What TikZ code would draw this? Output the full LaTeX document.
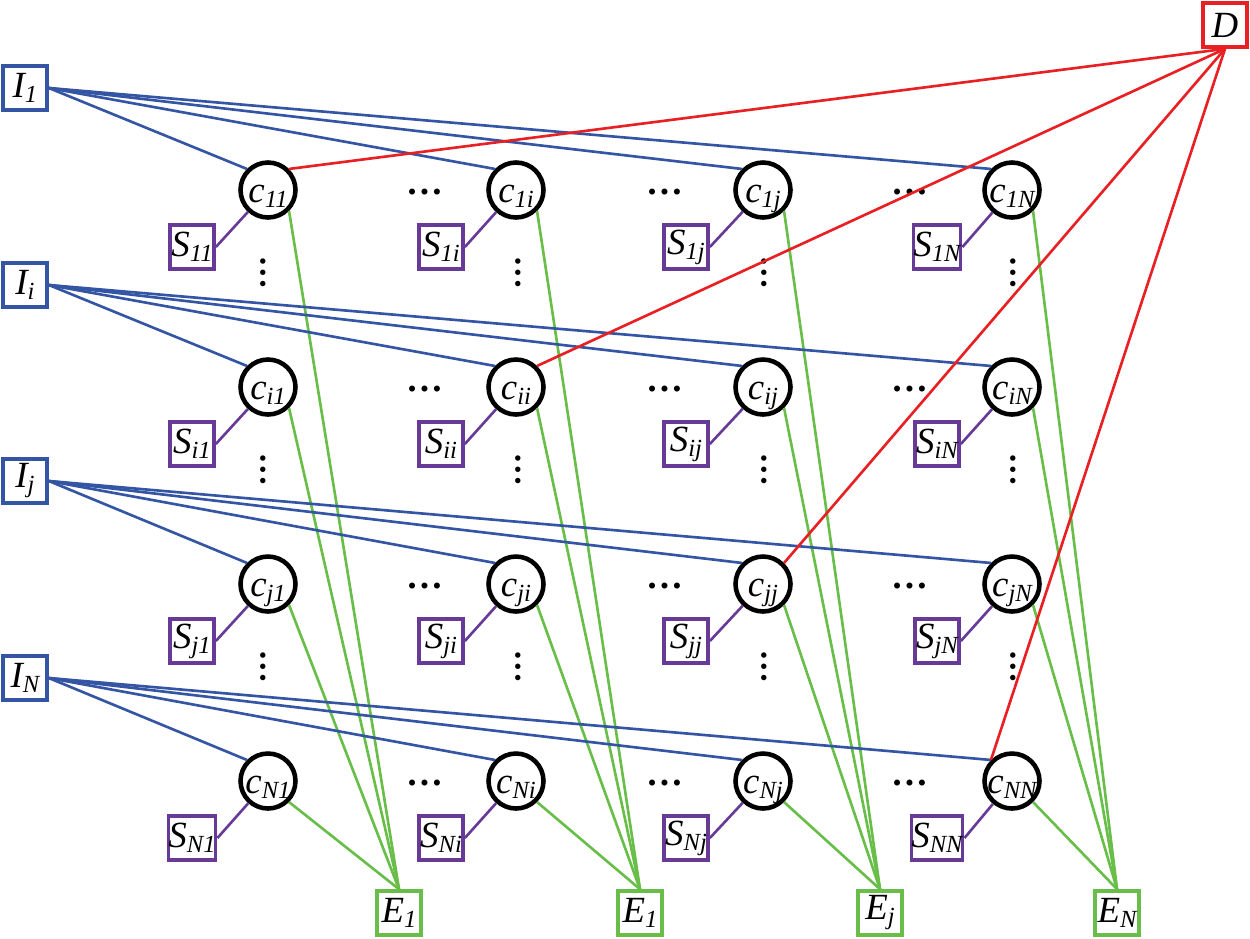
\documentclass[tikz,border=0pt]{standalone}
\usepackage{fontspec}
\setmainfont{Liberation Serif}
\definecolor{inblue}{RGB}{52,84,164}
\definecolor{spurple}{RGB}{104,58,152}
\definecolor{egreen}{RGB}{104,190,72}
\definecolor{dred}{RGB}{232,32,36}
\newcommand{\lbl}[2]{#1\raisebox{-0.1cm}{\fontsize{14}{14}\selectfont #2}}
\newcommand{\clbl}[2]{\raisebox{-0.24cm}[0pt][0pt]{\lbl{#1}{#2}}}
\begin{document}
\begin{tikzpicture}[x=0.02cm, y=-0.02cm, font=\fontsize{21}{21}\selectfont\itshape,
  cell/.style={circle, draw=black, line width=2.6pt, minimum size=1.1cm, inner sep=0pt},
  box/.style={line width=2.1pt, minimum size=0.88cm, inner sep=0pt},
  inbox/.style={box, draw=inblue},
  sbox/.style={box, draw=spurple},
  ebox/.style={box, draw=egreen},
  dbox/.style={box, draw=dred},
  hdots/.style={inner sep=0pt, font=\fontsize{21}{21}\selectfont\bfseries},
  vdots/.style={inner sep=0pt, font=\fontsize{19}{19}\selectfont\bfseries},
  iline/.style={draw=inblue, line width=1.5pt},
  sline/.style={draw=spurple, line width=1.5pt},
  eline/.style={draw=egreen, line width=1.5pt},
  dline/.style={draw=dred, line width=1.5pt}]

 \useasboundingbox (0,0) rectangle (1250,938);

 \node[dbox] (D) at (1225,25) {D};

 \foreach \r/\name/\y in {1/1/88, 2/i/285, 3/j/481, 4/N/678}
   \node[inbox] (I\r) at (25,\y) {\lbl{I}{\name}};

 \foreach \k/\name/\x in {1/1/399, 2/1/640, 3/j/880, 4/N/1117}
   \node[ebox] (E\k) at (\x,913) {\lbl{E}{\name}};

 %cells
 \foreach \r/\rn/\y in {1/1/190, 2/i/387, 3/j/584, 4/N/781} {
   \foreach \k/\kn/\x/\sx in {1/1/268/192, 2/i/516/441, 3/j/763/686, 4/N/1012/937} {
     \node[cell] (c\r\k) at (\x,\y) {\clbl{c}{\rn\kn}};
     \node[sbox] (S\r\k) at (\sx,\y+57) {\lbl{S}{\rn\kn}};
     \draw[sline] (S\r\k.east) -- (c\r\k);
     \draw[iline] (I\r.east) -- (c\r\k.north west);
     \draw[eline] (c\r\k.south east) -- (E\k.north);
   }
   \foreach \k/\x in {1/425, 2/665, 3/910}
     \node[hdots] (h\r\k) at (\x,\y+2) {\textellipsis};
 }

 % vertical dots, not under the last row
 \foreach \r/\y in {1/190, 2/387, 3/584}
   \foreach \k/\x in {1/263, 2/518, 3/764, 4/1013}
     \node[vdots] (v\r\k) at (\x,\y+83) {\rotatebox{90}{\textellipsis}};

 % lines to D
 \foreach \t/\a in {11/north east, 22/north east, 33/north east, 44/north west}
   \draw[dline] (D.south) -- (c\t.\a);

\end{tikzpicture}
\end{document}
